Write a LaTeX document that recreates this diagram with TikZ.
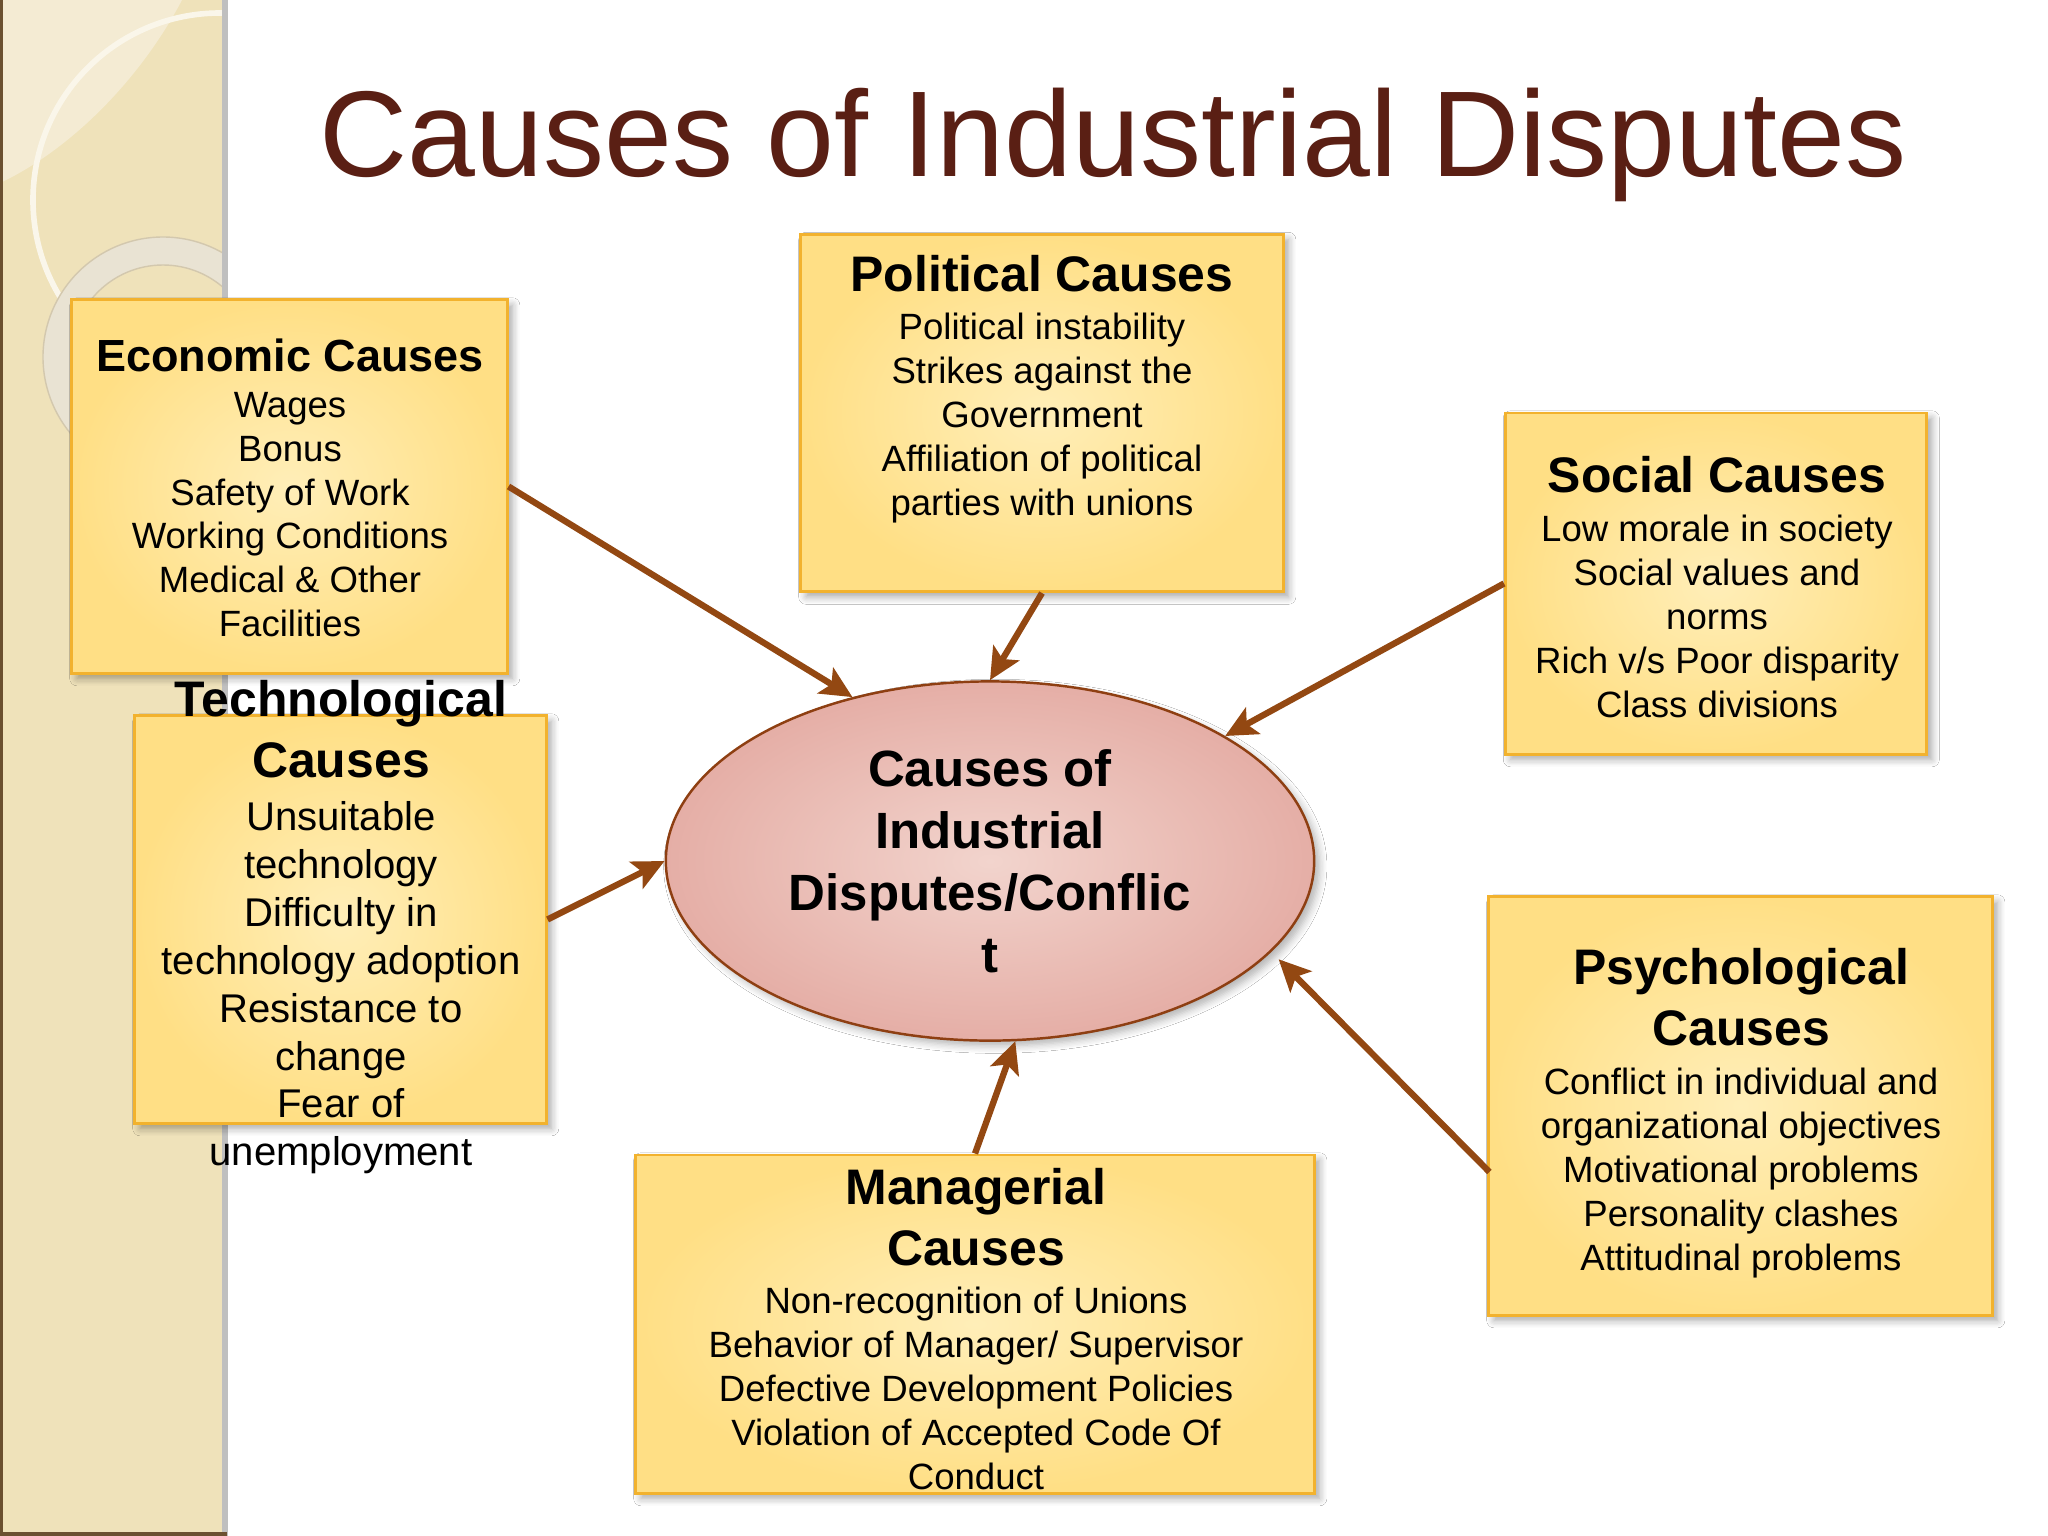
\documentclass[tikz,border=0pt]{standalone}
\usepackage{fontspec}
\setmainfont{Liberation Sans}
\usetikzlibrary{arrows.meta,shapes.geometric,shadows.blur,calc}
\definecolor{stripCol}{HTML}{EFE2BA}
\definecolor{stripLight}{HTML}{F4EBD3}
\definecolor{stripEdge}{HTML}{6B5030}
\definecolor{ringCol}{HTML}{E9E3D3}
\definecolor{ringLine}{HTML}{D3C8AE}
\definecolor{titleCol}{HTML}{5A1F14}
\definecolor{boxIn}{HTML}{FFEEB8}
\definecolor{boxOut}{HTML}{FFDF85}
\definecolor{boxLine}{HTML}{F2B22E}
\definecolor{ellIn}{HTML}{F2D4CD}
\definecolor{ellOut}{HTML}{E5AEA6}
\definecolor{ellLine}{HTML}{8E3F12}
\definecolor{arrCol}{HTML}{934812}

\newcommand{\hd}{\fontsize{14.2}{17.4}\selectfont\bfseries}
\newcommand{\bd}{\fontsize{10.4}{12.5}\selectfont\lineskiplimit=-20pt}
\newcommand{\tb}{\fontsize{11.4}{13.6}\selectfont\lineskiplimit=-20pt}

\begin{document}
\begin{tikzpicture}[
    x=0.01cm, y=-0.01cm,
    >={Stealth[length=9pt,width=8.5pt,inset=2pt]},
    box/.style={rectangle, draw=boxLine, line width=0.8pt,
      inner color=boxIn, outer color=boxOut,
      blur shadow={shadow xshift=1.5pt, shadow yshift=-1.5pt,
        shadow blur steps=6, shadow opacity=35}},
    txt/.style={align=center, inner sep=0pt, text=black, font=\bd},
    arr/.style={->, line width=1.8pt, draw=arrCol, fill=arrCol},
  ]
\useasboundingbox (0,0) rectangle (2048,1536);
\fill[white] (0,0) rectangle (2048,1536);

% Left strip
\fill[stripCol] (0,0) rectangle (227,1536);
\fill[stripLight] (0,0) -- (182,0) .. controls (140,80) and (70,150) .. (0,183) -- cycle;
\begin{scope}
  \clip (0,0) rectangle (227,1536);
  \draw[white!70!stripCol, line width=1.6pt] (220,200) circle[radius=187];
  \fill[ringCol, draw=ringLine, line width=0.4pt, even odd rule]
    (163,357) circle[radius=120] (163,357) circle[radius=92];
\end{scope}
\draw[black!25, line width=1.5pt] (225,0) -- (225,1536);
\draw[stripEdge, line width=1pt] (1,0) -- (1,1536);
\draw[stripEdge, line width=1pt] (0,1534) -- (227,1534);

% Title
\node[anchor=base, text=titleCol, font=\fontsize{34.7}{40}\selectfont]
  (title) at (1113,176) {Causes of Industrial Disputes};

% Boxes
\node[box, minimum width=4.35cm, minimum height=3.73cm] (econ) at (289.5,486.5) {};
\node[box, minimum width=4.82cm, minimum height=3.57cm] (polit) at (1042,413) {};
\node[box, minimum width=4.21cm, minimum height=3.41cm] (social) at (1716,583.5) {};
\node[box, minimum width=4.11cm, minimum height=4.07cm] (tech) at (340.5,919.5) {};
\node[box, minimum width=6.78cm, minimum height=3.38cm] (manag) at (975,1324) {};
\node[box, minimum width=5.03cm, minimum height=4.18cm] (psych) at (1740.5,1106) {};

% Box texts
\node[txt] (econ-txt) at (290,488)
  {\fontsize{12.8}{15.4}\selectfont\bfseries Economic Causes\\[0.5pt]
  Wages\\ Bonus\\ Safety of Work\\ Working Conditions\\ Medical \& Other\\ Facilities};
\node[txt] (polit-txt) at (1042,389)
  {\hd Political Causes\\[1.3pt]
  Political instability\\ Strikes against the\\ Government\\
  Affiliation of political\\ parties with unions};
\node[txt] (social-txt) at (1717,587)
  {\hd Social Causes\\[1.6pt]
  Low morale in society\\ Social values and\\ norms\\
  Rich v/s Poor disparity\\ Class divisions};
\node[txt, font=\tb] (tech-txt) at (341,927)
  {\hd Technological\\[3.8pt] \hd Causes\\[1.6pt]
  Unsuitable\\ technology\\ Difficulty in\\
  technology adoption\\ Resistance to\\ change\\ Fear of\\ unemployment};
\node[txt] (manag-txt) at (976,1329)
  {\hd Managerial\\[4.9pt] \hd Causes\\[1.3pt]
  Non-recognition of Unions\\ Behavior of Manager/ Supervisor\\
  Defective Development Policies\\ Violation of Accepted Code Of\\ Conduct};
\node[txt] (psych-txt) at (1741,1113)
  {\hd Psychological\\[4.9pt] \hd Causes\\[1.5pt]
  Conflict in individual and\\ organizational objectives\\
  Motivational problems\\ Personality clashes\\ Attitudinal problems};

% Centre
\node[ellipse, draw=ellLine, line width=0.7pt, inner color=ellIn, outer color=ellOut,
      minimum width=6.48cm, minimum height=3.59cm, inner sep=0pt, align=center,
      font=\fontsize{14.5}{17.6}\selectfont\bfseries,
      blur shadow={shadow xshift=1.5pt, shadow yshift=-1.5pt,
        shadow blur steps=6, shadow opacity=30}]
  (cause) at (990,861) {Causes of\\ Industrial\\ Disputes/Conflic\\ t};

% Arrows
\draw[arr] (econ.east) -- (cause.130.8);
\draw[arr] (polit.south) -- (cause.90);
\draw[arr] (social.west) -- (cause.28.7);
\draw[arr] (tech.east) -- (cause.180);
\draw[arr] (manag.north) -- (cause.278);
\draw[arr] ($(psych.west)+(2,66)$) -- ([shift={(12,3)}]cause.341);

\end{tikzpicture}
\end{document}
